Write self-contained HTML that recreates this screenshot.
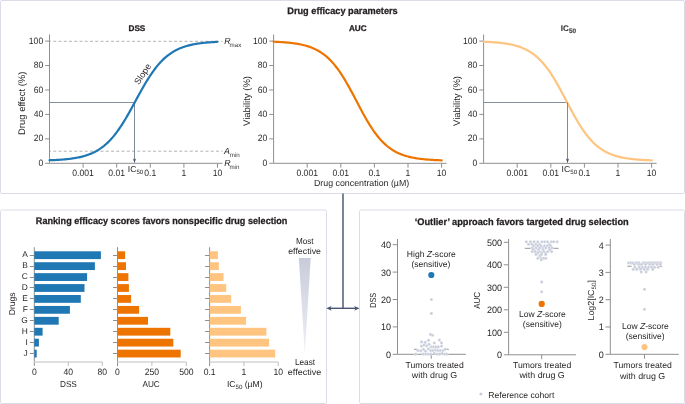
<!DOCTYPE html>
<html><head><meta charset="utf-8"><title>Drug efficacy parameters</title>
<style>html,body{margin:0;padding:0;background:#fff;overflow:hidden;}svg{display:block;will-change:transform;}</style>
</head><body>
<svg width="685" height="404" viewBox="0 0 685 404" font-family='"Liberation Sans", sans-serif' fill="#231f20" text-rendering="geometricPrecision">
<defs><linearGradient id="tri" x1="0" y1="0" x2="0" y2="1"><stop offset="0" stop-color="#c8ccda"/><stop offset="1" stop-color="#f0f1f6"/></linearGradient></defs>
<rect width="685" height="404" fill="#fff"/>
<rect x="0.5" y="0.5" width="684" height="193" rx="1.5" fill="none" stroke="#dadde8" stroke-width="1"/>
<rect x="0.5" y="210" width="326" height="193.5" rx="1.5" fill="none" stroke="#dadde8" stroke-width="1"/>
<rect x="359.5" y="210" width="325" height="193.5" rx="1.5" fill="none" stroke="#dadde8" stroke-width="1"/>
<text x="342.5" y="14" font-size="9.6" text-anchor="middle" font-weight="bold" stroke="#231f20" stroke-width="0.28" textLength="110.5" lengthAdjust="spacingAndGlyphs">Drug efficacy parameters</text>
<line x1="49.5" y1="34.5" x2="49.5" y2="163.3" stroke="#8f8f8f" stroke-width="1"/>
<line x1="45.2" y1="163.3" x2="49.5" y2="163.3" stroke="#8f8f8f" stroke-width="1"/>
<text x="43.2" y="165.9" font-size="9.2" text-anchor="end" textLength="4.78" lengthAdjust="spacingAndGlyphs">0</text>
<line x1="45.2" y1="138.86" x2="49.5" y2="138.86" stroke="#8f8f8f" stroke-width="1"/>
<text x="43.2" y="141.46" font-size="9.2" text-anchor="end" textLength="9.56" lengthAdjust="spacingAndGlyphs">20</text>
<line x1="45.2" y1="114.42000000000002" x2="49.5" y2="114.42000000000002" stroke="#8f8f8f" stroke-width="1"/>
<text x="43.2" y="117.02" font-size="9.2" text-anchor="end" textLength="9.56" lengthAdjust="spacingAndGlyphs">40</text>
<line x1="45.2" y1="89.98000000000002" x2="49.5" y2="89.98000000000002" stroke="#8f8f8f" stroke-width="1"/>
<text x="43.2" y="92.58" font-size="9.2" text-anchor="end" textLength="9.56" lengthAdjust="spacingAndGlyphs">60</text>
<line x1="45.2" y1="65.54000000000002" x2="49.5" y2="65.54000000000002" stroke="#8f8f8f" stroke-width="1"/>
<text x="43.2" y="68.14" font-size="9.2" text-anchor="end" textLength="9.56" lengthAdjust="spacingAndGlyphs">80</text>
<line x1="45.2" y1="41.10000000000001" x2="49.5" y2="41.10000000000001" stroke="#8f8f8f" stroke-width="1"/>
<text x="43.2" y="43.7" font-size="9.2" text-anchor="end" textLength="14.35" lengthAdjust="spacingAndGlyphs">100</text>
<line x1="49.5" y1="163.3" x2="222.5" y2="163.3" stroke="#8f8f8f" stroke-width="1"/>
<line x1="83.1" y1="163.3" x2="83.1" y2="167.70000000000002" stroke="#8f8f8f" stroke-width="1"/>
<text x="83.1" y="176" font-size="9.2" text-anchor="middle" textLength="21.52" lengthAdjust="spacingAndGlyphs">0.001</text>
<line x1="116.7" y1="163.3" x2="116.7" y2="167.70000000000002" stroke="#8f8f8f" stroke-width="1"/>
<text x="116.7" y="176" font-size="9.2" text-anchor="middle" textLength="16.74" lengthAdjust="spacingAndGlyphs">0.01</text>
<line x1="150.3" y1="163.3" x2="150.3" y2="167.70000000000002" stroke="#8f8f8f" stroke-width="1"/>
<text x="150.3" y="176" font-size="9.2" text-anchor="middle" textLength="11.95" lengthAdjust="spacingAndGlyphs">0.1</text>
<line x1="183.9" y1="163.3" x2="183.9" y2="167.70000000000002" stroke="#8f8f8f" stroke-width="1"/>
<text x="183.9" y="176" font-size="9.2" text-anchor="middle" textLength="4.78" lengthAdjust="spacingAndGlyphs">1</text>
<line x1="217.5" y1="163.3" x2="217.5" y2="167.70000000000002" stroke="#8f8f8f" stroke-width="1"/>
<text x="217.5" y="176" font-size="9.2" text-anchor="middle" textLength="9.56" lengthAdjust="spacingAndGlyphs">10</text>
<text x="0" y="0" font-size="9.5" text-anchor="middle" textLength="63.3" lengthAdjust="spacingAndGlyphs" transform="translate(25.2,103.3) rotate(-90)">Drug effect (%)</text>
<text x="136.9" y="30.7" font-size="8.2" text-anchor="middle" font-weight="bold" stroke="#231f20" stroke-width="0.28">DSS</text>
<line x1="49.5" y1="41.3" x2="222.5" y2="41.3" stroke="#a0a0a0" stroke-width="0.8" stroke-dasharray="3 2.25" stroke-dashoffset="1.5"/>
<line x1="49.5" y1="151.2" x2="222.5" y2="151.2" stroke="#a0a0a0" stroke-width="0.8" stroke-dasharray="3 2.25" stroke-dashoffset="1.5"/>
<line x1="49.5" y1="102.5" x2="134.5" y2="102.5" stroke="#878ea0" stroke-width="1"/>
<line x1="134.5" y1="102.5" x2="134.5" y2="160" stroke="#737c92" stroke-width="0.9"/>
<path d="M133.0,158.6 L134.5,159.6 L136.0,158.6 L134.5,163.3 Z" fill="#434e68"/>
<polyline points="49.50,160.26 50.55,160.22 51.60,160.18 52.65,160.14 53.70,160.09 54.74,160.04 55.79,159.99 56.84,159.93 57.89,159.87 58.94,159.80 59.99,159.73 61.04,159.66 62.08,159.58 63.13,159.49 64.18,159.40 65.23,159.31 66.28,159.21 67.33,159.10 68.38,158.98 69.43,158.86 70.48,158.73 71.52,158.59 72.57,158.44 73.62,158.28 74.67,158.11 75.72,157.93 76.77,157.74 77.82,157.54 78.87,157.33 79.91,157.10 80.96,156.85 82.01,156.60 83.06,156.32 84.11,156.03 85.16,155.72 86.21,155.40 87.25,155.05 88.30,154.68 89.35,154.29 90.40,153.88 91.45,153.44 92.50,152.98 93.55,152.49 94.60,151.97 95.65,151.42 96.69,150.84 97.74,150.23 98.79,149.59 99.84,148.91 100.89,148.20 101.94,147.45 102.99,146.66 104.04,145.83 105.08,144.96 106.13,144.05 107.18,143.09 108.23,142.09 109.28,141.04 110.33,139.95 111.38,138.81 112.43,137.62 113.47,136.39 114.52,135.10 115.57,133.77 116.62,132.39 117.67,130.97 118.72,129.49 119.77,127.97 120.82,126.41 121.86,124.80 122.91,123.15 123.96,121.45 125.01,119.73 126.06,117.96 127.11,116.17 128.16,114.34 129.21,112.49 130.25,110.61 131.30,108.71 132.35,106.80 133.40,104.88 134.45,102.95 135.50,101.01 136.55,99.08 137.60,97.14 138.64,95.22 139.69,93.31 140.74,91.41 141.79,89.54 142.84,87.68 143.89,85.85 144.94,84.06 145.99,82.29 147.03,80.56 148.08,78.87 149.13,77.22 150.18,75.61 151.23,74.04 152.28,72.52 153.33,71.04 154.38,69.61 155.42,68.23 156.47,66.90 157.52,65.61 158.57,64.38 159.62,63.19 160.67,62.05 161.72,60.95 162.77,59.90 163.81,58.90 164.86,57.94 165.91,57.03 166.96,56.16 168.01,55.32 169.06,54.53 170.11,53.78 171.16,53.07 172.20,52.39 173.25,51.74 174.30,51.13 175.35,50.55 176.40,50.01 177.45,49.49 178.50,49.00 179.55,48.53 180.59,48.09 181.64,47.68 182.69,47.29 183.74,46.92 184.79,46.57 185.84,46.24 186.89,45.94 187.94,45.64 188.98,45.37 190.03,45.11 191.08,44.87 192.13,44.64 193.18,44.42 194.23,44.22 195.28,44.03 196.33,43.85 197.37,43.68 198.42,43.52 199.47,43.37 200.52,43.23 201.57,43.10 202.62,42.98 203.67,42.86 204.72,42.75 205.76,42.65 206.81,42.56 207.86,42.47 208.91,42.38 209.96,42.30 211.01,42.23 212.06,42.16 213.11,42.09 214.15,42.03 215.20,41.97 216.25,41.92 217.30,41.87" fill="none" stroke="#1f77b4" stroke-width="2.2" stroke-linecap="round"/>
<text x="127.8" y="171.6" font-size="8.6">IC<tspan font-size="6.2" dy="1.9">50</tspan></text>
<text x="224.2" y="43.9" font-size="8.8" font-style="italic">R</text>
<text x="229.6" y="46.6" font-size="6.2" fill="#3a3a3a">max</text>
<text x="224.0" y="154.0" font-size="8.8" font-style="italic">A</text>
<text x="229.8" y="156.8" font-size="6.2" fill="#3a3a3a">min</text>
<text x="224.2" y="166.0" font-size="8.8" font-style="italic">R</text>
<text x="229.4" y="168.6" font-size="6.2" fill="#3a3a3a">min</text>
<text x="0" y="0" font-size="9.0" text-anchor="middle" transform="translate(145.1,75.7) rotate(-56)">Slope</text>
<line x1="273.6" y1="34.5" x2="273.6" y2="163.3" stroke="#8f8f8f" stroke-width="1"/>
<line x1="269.3" y1="163.3" x2="273.6" y2="163.3" stroke="#8f8f8f" stroke-width="1"/>
<text x="267.3" y="165.9" font-size="9.2" text-anchor="end" textLength="4.78" lengthAdjust="spacingAndGlyphs">0</text>
<line x1="269.3" y1="138.86" x2="273.6" y2="138.86" stroke="#8f8f8f" stroke-width="1"/>
<text x="267.3" y="141.46" font-size="9.2" text-anchor="end" textLength="9.56" lengthAdjust="spacingAndGlyphs">20</text>
<line x1="269.3" y1="114.42000000000002" x2="273.6" y2="114.42000000000002" stroke="#8f8f8f" stroke-width="1"/>
<text x="267.3" y="117.02" font-size="9.2" text-anchor="end" textLength="9.56" lengthAdjust="spacingAndGlyphs">40</text>
<line x1="269.3" y1="89.98000000000002" x2="273.6" y2="89.98000000000002" stroke="#8f8f8f" stroke-width="1"/>
<text x="267.3" y="92.58" font-size="9.2" text-anchor="end" textLength="9.56" lengthAdjust="spacingAndGlyphs">60</text>
<line x1="269.3" y1="65.54000000000002" x2="273.6" y2="65.54000000000002" stroke="#8f8f8f" stroke-width="1"/>
<text x="267.3" y="68.14" font-size="9.2" text-anchor="end" textLength="9.56" lengthAdjust="spacingAndGlyphs">80</text>
<line x1="269.3" y1="41.10000000000001" x2="273.6" y2="41.10000000000001" stroke="#8f8f8f" stroke-width="1"/>
<text x="267.3" y="43.7" font-size="9.2" text-anchor="end" textLength="14.35" lengthAdjust="spacingAndGlyphs">100</text>
<line x1="273.6" y1="163.3" x2="446.6" y2="163.3" stroke="#8f8f8f" stroke-width="1"/>
<line x1="307.20000000000005" y1="163.3" x2="307.20000000000005" y2="167.70000000000002" stroke="#8f8f8f" stroke-width="1"/>
<text x="307.2" y="176" font-size="9.2" text-anchor="middle" textLength="21.52" lengthAdjust="spacingAndGlyphs">0.001</text>
<line x1="340.8" y1="163.3" x2="340.8" y2="167.70000000000002" stroke="#8f8f8f" stroke-width="1"/>
<text x="340.8" y="176" font-size="9.2" text-anchor="middle" textLength="16.74" lengthAdjust="spacingAndGlyphs">0.01</text>
<line x1="374.40000000000003" y1="163.3" x2="374.40000000000003" y2="167.70000000000002" stroke="#8f8f8f" stroke-width="1"/>
<text x="374.4" y="176" font-size="9.2" text-anchor="middle" textLength="11.95" lengthAdjust="spacingAndGlyphs">0.1</text>
<line x1="408.0" y1="163.3" x2="408.0" y2="167.70000000000002" stroke="#8f8f8f" stroke-width="1"/>
<text x="408.0" y="176" font-size="9.2" text-anchor="middle" textLength="4.78" lengthAdjust="spacingAndGlyphs">1</text>
<line x1="441.6" y1="163.3" x2="441.6" y2="167.70000000000002" stroke="#8f8f8f" stroke-width="1"/>
<text x="441.6" y="176" font-size="9.2" text-anchor="middle" textLength="9.56" lengthAdjust="spacingAndGlyphs">10</text>
<text x="0" y="0" font-size="9.5" text-anchor="middle" textLength="50" lengthAdjust="spacingAndGlyphs" transform="translate(250,101) rotate(-90)">Viability (%)</text>
<text x="357.8" y="31" font-size="8.2" text-anchor="middle" font-weight="bold" stroke="#231f20" stroke-width="0.28">AUC</text>
<polyline points="273.60,41.71 274.65,41.75 275.70,41.79 276.75,41.84 277.80,41.89 278.85,41.95 279.90,42.01 280.95,42.07 282.01,42.13 283.06,42.21 284.11,42.28 285.16,42.36 286.21,42.45 287.26,42.54 288.31,42.64 289.36,42.74 290.41,42.86 291.46,42.98 292.51,43.10 293.56,43.24 294.61,43.39 295.66,43.54 296.71,43.71 297.76,43.88 298.81,44.07 299.87,44.27 300.92,44.48 301.97,44.71 303.02,44.95 304.07,45.21 305.12,45.49 306.17,45.78 307.22,46.09 308.27,46.42 309.32,46.77 310.37,47.14 311.42,47.54 312.47,47.96 313.52,48.40 314.57,48.88 315.62,49.38 316.68,49.91 317.73,50.47 318.78,51.07 319.83,51.70 320.88,52.36 321.93,53.06 322.98,53.80 324.03,54.58 325.08,55.41 326.13,56.27 327.18,57.18 328.23,58.14 329.28,59.14 330.33,60.19 331.38,61.29 332.44,62.44 333.49,63.64 334.54,64.89 335.59,66.19 336.64,67.54 337.69,68.95 338.74,70.40 339.79,71.91 340.84,73.47 341.89,75.07 342.94,76.73 343.99,78.42 345.04,80.17 346.09,81.95 347.14,83.77 348.19,85.63 349.25,87.51 350.30,89.43 351.35,91.37 352.40,93.34 353.45,95.32 354.50,97.31 355.55,99.31 356.60,101.31 357.65,103.32 358.70,105.31 359.75,107.30 360.80,109.28 361.85,111.23 362.90,113.17 363.95,115.08 365.00,116.95 366.06,118.80 367.11,120.61 368.16,122.38 369.21,124.10 370.26,125.79 371.31,127.42 372.36,129.01 373.41,130.55 374.46,132.04 375.51,133.48 376.56,134.87 377.61,136.21 378.66,137.49 379.71,138.73 380.76,139.91 381.81,141.04 382.87,142.12 383.92,143.16 384.97,144.14 386.02,145.08 387.07,145.98 388.12,146.83 389.17,147.64 390.22,148.40 391.27,149.13 392.32,149.82 393.37,150.47 394.42,151.09 395.47,151.68 396.52,152.23 397.57,152.75 398.62,153.24 399.67,153.70 400.73,154.14 401.78,154.55 402.83,154.94 403.88,155.31 404.93,155.65 405.98,155.97 407.03,156.28 408.08,156.56 409.13,156.83 410.18,157.08 411.23,157.32 412.28,157.54 413.33,157.75 414.38,157.95 415.43,158.13 416.49,158.31 417.54,158.47 418.59,158.62 419.64,158.76 420.69,158.90 421.74,159.02 422.79,159.14 423.84,159.25 424.89,159.35 425.94,159.45 426.99,159.54 428.04,159.62 429.09,159.70 430.14,159.77 431.19,159.84 432.24,159.91 433.29,159.97 434.35,160.03 435.40,160.08 436.45,160.13 437.50,160.18 438.55,160.22 439.60,160.26 440.65,160.30 441.70,160.34" fill="none" stroke="#ee7400" stroke-width="2.2" stroke-linecap="round"/>
<text x="361.6" y="186.4" font-size="8.9" text-anchor="middle" textLength="95.3" lengthAdjust="spacingAndGlyphs">Drug concentration (µM)</text>
<line x1="483.6" y1="34.5" x2="483.6" y2="163.3" stroke="#8f8f8f" stroke-width="1"/>
<line x1="479.3" y1="163.3" x2="483.6" y2="163.3" stroke="#8f8f8f" stroke-width="1"/>
<text x="477.3" y="165.9" font-size="9.2" text-anchor="end" textLength="4.78" lengthAdjust="spacingAndGlyphs">0</text>
<line x1="479.3" y1="138.86" x2="483.6" y2="138.86" stroke="#8f8f8f" stroke-width="1"/>
<text x="477.3" y="141.46" font-size="9.2" text-anchor="end" textLength="9.56" lengthAdjust="spacingAndGlyphs">20</text>
<line x1="479.3" y1="114.42000000000002" x2="483.6" y2="114.42000000000002" stroke="#8f8f8f" stroke-width="1"/>
<text x="477.3" y="117.02" font-size="9.2" text-anchor="end" textLength="9.56" lengthAdjust="spacingAndGlyphs">40</text>
<line x1="479.3" y1="89.98000000000002" x2="483.6" y2="89.98000000000002" stroke="#8f8f8f" stroke-width="1"/>
<text x="477.3" y="92.58" font-size="9.2" text-anchor="end" textLength="9.56" lengthAdjust="spacingAndGlyphs">60</text>
<line x1="479.3" y1="65.54000000000002" x2="483.6" y2="65.54000000000002" stroke="#8f8f8f" stroke-width="1"/>
<text x="477.3" y="68.14" font-size="9.2" text-anchor="end" textLength="9.56" lengthAdjust="spacingAndGlyphs">80</text>
<line x1="479.3" y1="41.10000000000001" x2="483.6" y2="41.10000000000001" stroke="#8f8f8f" stroke-width="1"/>
<text x="477.3" y="43.7" font-size="9.2" text-anchor="end" textLength="14.35" lengthAdjust="spacingAndGlyphs">100</text>
<line x1="483.6" y1="163.3" x2="656.6" y2="163.3" stroke="#8f8f8f" stroke-width="1"/>
<line x1="517.2" y1="163.3" x2="517.2" y2="167.70000000000002" stroke="#8f8f8f" stroke-width="1"/>
<text x="517.2" y="176" font-size="9.2" text-anchor="middle" textLength="21.52" lengthAdjust="spacingAndGlyphs">0.001</text>
<line x1="550.8000000000001" y1="163.3" x2="550.8000000000001" y2="167.70000000000002" stroke="#8f8f8f" stroke-width="1"/>
<text x="550.8" y="176" font-size="9.2" text-anchor="middle" textLength="16.74" lengthAdjust="spacingAndGlyphs">0.01</text>
<line x1="584.4000000000001" y1="163.3" x2="584.4000000000001" y2="167.70000000000002" stroke="#8f8f8f" stroke-width="1"/>
<text x="584.4" y="176" font-size="9.2" text-anchor="middle" textLength="11.95" lengthAdjust="spacingAndGlyphs">0.1</text>
<line x1="618.0" y1="163.3" x2="618.0" y2="167.70000000000002" stroke="#8f8f8f" stroke-width="1"/>
<text x="618.0" y="176" font-size="9.2" text-anchor="middle" textLength="4.78" lengthAdjust="spacingAndGlyphs">1</text>
<line x1="651.6" y1="163.3" x2="651.6" y2="167.70000000000002" stroke="#8f8f8f" stroke-width="1"/>
<text x="651.6" y="176" font-size="9.2" text-anchor="middle" textLength="9.56" lengthAdjust="spacingAndGlyphs">10</text>
<text x="0" y="0" font-size="9.5" text-anchor="middle" textLength="50" lengthAdjust="spacingAndGlyphs" transform="translate(460,101) rotate(-90)">Viability (%)</text>
<text x="560.8" y="30.8" font-size="8.2" font-weight="bold">IC<tspan font-size="6.4" dy="2.4" stroke="#444" stroke-width="0.15" fill="#444">50</tspan></text>
<line x1="483.6" y1="102.5" x2="567.5" y2="102.5" stroke="#878ea0" stroke-width="1"/>
<polyline points="483.60,41.71 484.65,41.75 485.70,41.79 486.75,41.84 487.81,41.89 488.86,41.95 489.91,42.01 490.96,42.07 492.01,42.13 493.06,42.21 494.11,42.28 495.16,42.36 496.22,42.45 497.27,42.54 498.32,42.64 499.37,42.75 500.42,42.86 501.47,42.98 502.52,43.11 503.57,43.24 504.62,43.39 505.68,43.54 506.73,43.71 507.78,43.89 508.83,44.07 509.88,44.27 510.93,44.49 511.98,44.72 513.03,44.96 514.09,45.22 515.14,45.49 516.19,45.78 517.24,46.09 518.29,46.42 519.34,46.78 520.39,47.15 521.45,47.55 522.50,47.97 523.55,48.41 524.60,48.89 525.65,49.39 526.70,49.92 527.75,50.49 528.80,51.08 529.86,51.71 530.91,52.38 531.96,53.08 533.01,53.82 534.06,54.61 535.11,55.43 536.16,56.30 537.21,57.21 538.26,58.17 539.32,59.17 540.37,60.22 541.42,61.32 542.47,62.47 543.52,63.68 544.57,64.93 545.62,66.23 546.67,67.59 547.73,69.00 548.78,70.46 549.83,71.97 550.88,73.53 551.93,75.14 552.98,76.79 554.03,78.49 555.09,80.24 556.14,82.02 557.19,83.85 558.24,85.70 559.29,87.60 560.34,89.51 561.39,91.46 562.44,93.42 563.50,95.41 564.55,97.40 565.60,99.40 566.65,101.41 567.70,103.41 568.75,105.41 569.80,107.40 570.85,109.37 571.90,111.33 572.96,113.27 574.01,115.17 575.06,117.05 576.11,118.89 577.16,120.70 578.21,122.47 579.26,124.20 580.32,125.88 581.37,127.51 582.42,129.10 583.47,130.64 584.52,132.13 585.57,133.57 586.62,134.95 587.67,136.29 588.72,137.57 589.78,138.80 590.83,139.98 591.88,141.11 592.93,142.19 593.98,143.22 595.03,144.21 596.08,145.14 597.13,146.03 598.19,146.88 599.24,147.69 600.29,148.45 601.34,149.18 602.39,149.87 603.44,150.52 604.49,151.13 605.54,151.71 606.60,152.26 607.65,152.78 608.70,153.27 609.75,153.74 610.80,154.17 611.85,154.58 612.90,154.97 613.95,155.33 615.01,155.68 616.06,156.00 617.11,156.30 618.16,156.58 619.21,156.85 620.26,157.10 621.31,157.34 622.37,157.56 623.42,157.77 624.47,157.96 625.52,158.15 626.57,158.32 627.62,158.48 628.67,158.63 629.72,158.77 630.77,158.91 631.83,159.03 632.88,159.15 633.93,159.26 634.98,159.36 636.03,159.45 637.08,159.54 638.13,159.63 639.18,159.71 640.24,159.78 641.29,159.85 642.34,159.91 643.39,159.98 644.44,160.03 645.49,160.09 646.54,160.13 647.60,160.18 648.65,160.22 649.70,160.27 650.75,160.30 651.80,160.34" fill="none" stroke="#fec480" stroke-width="2.2" stroke-linecap="round"/>
<line x1="567.5" y1="102.5" x2="567.5" y2="160" stroke="#737c92" stroke-width="0.9"/>
<path d="M566.0,158.6 L567.5,159.6 L569.0,158.6 L567.5,163.3 Z" fill="#434e68"/>
<text x="561.6" y="171.6" font-size="8.6">IC<tspan font-size="6.2" dy="1.9">50</tspan></text>
<line x1="343" y1="193.5" x2="343" y2="308.3" stroke="#6b7690" stroke-width="1.8"/>
<line x1="329" y1="308.3" x2="357" y2="308.3" stroke="#4a5670" stroke-width="1.4"/>
<path d="M326.3,308.3 L331.6,305.9 L330.3,308.3 L331.6,310.7 Z" fill="#4a5670"/>
<path d="M359.5,308.3 L354.2,305.9 L355.5,308.3 L354.2,310.7 Z" fill="#4a5670"/>
<text x="161.6" y="224.3" font-size="9.6" text-anchor="middle" font-weight="bold" stroke="#231f20" stroke-width="0.28" textLength="251.5" lengthAdjust="spacingAndGlyphs">Ranking efficacy scores favors nonspecific drug selection</text>
<line x1="34.3" y1="247.2" x2="34.3" y2="366" stroke="#8f8f8f" stroke-width="1"/>
<rect x="34.3" y="251.30" width="66.60" height="7.8" fill="#1f77b4"/>
<line x1="29.799999999999997" y1="255.5" x2="34.3" y2="255.5" stroke="#8f8f8f" stroke-width="1"/>
<rect x="34.3" y="262.23" width="60.60" height="7.8" fill="#1f77b4"/>
<line x1="29.799999999999997" y1="266.5" x2="34.3" y2="266.5" stroke="#8f8f8f" stroke-width="1"/>
<rect x="34.3" y="273.16" width="52.80" height="7.8" fill="#1f77b4"/>
<line x1="29.799999999999997" y1="277.5" x2="34.3" y2="277.5" stroke="#8f8f8f" stroke-width="1"/>
<rect x="34.3" y="284.09" width="50.20" height="7.8" fill="#1f77b4"/>
<line x1="29.799999999999997" y1="287.5" x2="34.3" y2="287.5" stroke="#8f8f8f" stroke-width="1"/>
<rect x="34.3" y="295.02" width="46.50" height="7.8" fill="#1f77b4"/>
<line x1="29.799999999999997" y1="298.5" x2="34.3" y2="298.5" stroke="#8f8f8f" stroke-width="1"/>
<rect x="34.3" y="305.95" width="35.60" height="7.8" fill="#1f77b4"/>
<line x1="29.799999999999997" y1="309.5" x2="34.3" y2="309.5" stroke="#8f8f8f" stroke-width="1"/>
<rect x="34.3" y="316.88" width="24.40" height="7.8" fill="#1f77b4"/>
<line x1="29.799999999999997" y1="320.5" x2="34.3" y2="320.5" stroke="#8f8f8f" stroke-width="1"/>
<rect x="34.3" y="327.81" width="8.30" height="7.8" fill="#1f77b4"/>
<line x1="29.799999999999997" y1="331.5" x2="34.3" y2="331.5" stroke="#8f8f8f" stroke-width="1"/>
<rect x="34.3" y="338.74" width="4.60" height="7.8" fill="#1f77b4"/>
<line x1="29.799999999999997" y1="342.5" x2="34.3" y2="342.5" stroke="#8f8f8f" stroke-width="1"/>
<rect x="34.3" y="349.67" width="2.40" height="7.8" fill="#1f77b4"/>
<line x1="29.799999999999997" y1="353.5" x2="34.3" y2="353.5" stroke="#8f8f8f" stroke-width="1"/>
<line x1="34.3" y1="362" x2="102.3" y2="362" stroke="#d4d4d4" stroke-width="1.3"/>
<text x="34.3" y="375" font-size="9.2" text-anchor="middle" textLength="4.78" lengthAdjust="spacingAndGlyphs">0</text>
<line x1="68.3" y1="362" x2="68.3" y2="366" stroke="#bdbdbd" stroke-width="1"/>
<text x="68.3" y="375" font-size="9.2" text-anchor="middle" textLength="9.56" lengthAdjust="spacingAndGlyphs">40</text>
<line x1="102.3" y1="362" x2="102.3" y2="366" stroke="#bdbdbd" stroke-width="1"/>
<text x="102.3" y="375" font-size="9.2" text-anchor="middle" textLength="9.56" lengthAdjust="spacingAndGlyphs">80</text>
<text x="68.4" y="387" font-size="8.6" text-anchor="middle" textLength="16.86" lengthAdjust="spacingAndGlyphs">DSS</text>
<text x="27.8" y="257.2" font-size="8.4" text-anchor="end">A</text>
<text x="27.8" y="268.13" font-size="8.4" text-anchor="end">B</text>
<text x="27.8" y="279.06" font-size="8.4" text-anchor="end">C</text>
<text x="27.8" y="289.99" font-size="8.4" text-anchor="end">D</text>
<text x="27.8" y="300.92" font-size="8.4" text-anchor="end">E</text>
<text x="27.8" y="311.85" font-size="8.4" text-anchor="end">F</text>
<text x="27.8" y="322.78" font-size="8.4" text-anchor="end">G</text>
<text x="27.8" y="333.71" font-size="8.4" text-anchor="end">H</text>
<text x="27.8" y="344.64" font-size="8.4" text-anchor="end">I</text>
<text x="27.8" y="355.57" font-size="8.4" text-anchor="end">J</text>
<text x="0" y="0" font-size="8.6" text-anchor="middle" transform="translate(15.2,303.8) rotate(-90)">Drugs</text>
<line x1="117.5" y1="247.2" x2="117.5" y2="366" stroke="#8f8f8f" stroke-width="1"/>
<rect x="117.5" y="251.30" width="7.60" height="7.8" fill="#ee7400"/>
<line x1="113.0" y1="255.5" x2="117.5" y2="255.5" stroke="#8f8f8f" stroke-width="1"/>
<rect x="117.5" y="262.23" width="8.50" height="7.8" fill="#ee7400"/>
<line x1="113.0" y1="266.5" x2="117.5" y2="266.5" stroke="#8f8f8f" stroke-width="1"/>
<rect x="117.5" y="273.16" width="10.90" height="7.8" fill="#ee7400"/>
<line x1="113.0" y1="277.5" x2="117.5" y2="277.5" stroke="#8f8f8f" stroke-width="1"/>
<rect x="117.5" y="284.09" width="11.40" height="7.8" fill="#ee7400"/>
<line x1="113.0" y1="287.5" x2="117.5" y2="287.5" stroke="#8f8f8f" stroke-width="1"/>
<rect x="117.5" y="295.02" width="13.60" height="7.8" fill="#ee7400"/>
<line x1="113.0" y1="298.5" x2="117.5" y2="298.5" stroke="#8f8f8f" stroke-width="1"/>
<rect x="117.5" y="305.95" width="21.60" height="7.8" fill="#ee7400"/>
<line x1="113.0" y1="309.5" x2="117.5" y2="309.5" stroke="#8f8f8f" stroke-width="1"/>
<rect x="117.5" y="316.88" width="30.50" height="7.8" fill="#ee7400"/>
<line x1="113.0" y1="320.5" x2="117.5" y2="320.5" stroke="#8f8f8f" stroke-width="1"/>
<rect x="117.5" y="327.81" width="52.80" height="7.8" fill="#ee7400"/>
<line x1="113.0" y1="331.5" x2="117.5" y2="331.5" stroke="#8f8f8f" stroke-width="1"/>
<rect x="117.5" y="338.74" width="55.80" height="7.8" fill="#ee7400"/>
<line x1="113.0" y1="342.5" x2="117.5" y2="342.5" stroke="#8f8f8f" stroke-width="1"/>
<rect x="117.5" y="349.67" width="63.20" height="7.8" fill="#ee7400"/>
<line x1="113.0" y1="353.5" x2="117.5" y2="353.5" stroke="#8f8f8f" stroke-width="1"/>
<line x1="117.5" y1="362" x2="186.3" y2="362" stroke="#d4d4d4" stroke-width="1.3"/>
<text x="117.5" y="375" font-size="9.2" text-anchor="middle" textLength="4.78" lengthAdjust="spacingAndGlyphs">0</text>
<line x1="151.9" y1="362" x2="151.9" y2="366" stroke="#bdbdbd" stroke-width="1"/>
<text x="151.9" y="375" font-size="9.2" text-anchor="middle" textLength="14.35" lengthAdjust="spacingAndGlyphs">250</text>
<line x1="186.3" y1="362" x2="186.3" y2="366" stroke="#bdbdbd" stroke-width="1"/>
<text x="186.3" y="375" font-size="9.2" text-anchor="middle" textLength="14.35" lengthAdjust="spacingAndGlyphs">500</text>
<text x="151.1" y="387" font-size="8.6" text-anchor="middle" textLength="17.31" lengthAdjust="spacingAndGlyphs">AUC</text>
<text x="226.9" y="387" font-size="8.6">IC<tspan font-size="6.2" dy="1.9">50</tspan><tspan dy="-1.9"> (µM)</tspan></text>
<line x1="209.6" y1="247.2" x2="209.6" y2="366" stroke="#8f8f8f" stroke-width="1"/>
<rect x="209.6" y="251.30" width="8.30" height="7.8" fill="#fec480"/>
<line x1="205.1" y1="255.5" x2="209.6" y2="255.5" stroke="#8f8f8f" stroke-width="1"/>
<rect x="209.6" y="262.23" width="9.20" height="7.8" fill="#fec480"/>
<line x1="205.1" y1="266.5" x2="209.6" y2="266.5" stroke="#8f8f8f" stroke-width="1"/>
<rect x="209.6" y="273.16" width="13.90" height="7.8" fill="#fec480"/>
<line x1="205.1" y1="277.5" x2="209.6" y2="277.5" stroke="#8f8f8f" stroke-width="1"/>
<rect x="209.6" y="284.09" width="16.60" height="7.8" fill="#fec480"/>
<line x1="205.1" y1="287.5" x2="209.6" y2="287.5" stroke="#8f8f8f" stroke-width="1"/>
<rect x="209.6" y="295.02" width="21.50" height="7.8" fill="#fec480"/>
<line x1="205.1" y1="298.5" x2="209.6" y2="298.5" stroke="#8f8f8f" stroke-width="1"/>
<rect x="209.6" y="305.95" width="31.30" height="7.8" fill="#fec480"/>
<line x1="205.1" y1="309.5" x2="209.6" y2="309.5" stroke="#8f8f8f" stroke-width="1"/>
<rect x="209.6" y="316.88" width="36.50" height="7.8" fill="#fec480"/>
<line x1="205.1" y1="320.5" x2="209.6" y2="320.5" stroke="#8f8f8f" stroke-width="1"/>
<rect x="209.6" y="327.81" width="56.80" height="7.8" fill="#fec480"/>
<line x1="205.1" y1="331.5" x2="209.6" y2="331.5" stroke="#8f8f8f" stroke-width="1"/>
<rect x="209.6" y="338.74" width="59.50" height="7.8" fill="#fec480"/>
<line x1="205.1" y1="342.5" x2="209.6" y2="342.5" stroke="#8f8f8f" stroke-width="1"/>
<rect x="209.6" y="349.67" width="65.60" height="7.8" fill="#fec480"/>
<line x1="205.1" y1="353.5" x2="209.6" y2="353.5" stroke="#8f8f8f" stroke-width="1"/>
<line x1="209.6" y1="362" x2="278.2" y2="362" stroke="#d4d4d4" stroke-width="1.3"/>
<text x="209.6" y="375" font-size="9.2" text-anchor="middle" textLength="11.95" lengthAdjust="spacingAndGlyphs">0.1</text>
<line x1="243.9" y1="362" x2="243.9" y2="366" stroke="#bdbdbd" stroke-width="1"/>
<text x="243.9" y="375" font-size="9.2" text-anchor="middle" textLength="4.78" lengthAdjust="spacingAndGlyphs">1</text>
<line x1="278.2" y1="362" x2="278.2" y2="366" stroke="#bdbdbd" stroke-width="1"/>
<text x="278.2" y="375" font-size="9.2" text-anchor="middle" textLength="9.56" lengthAdjust="spacingAndGlyphs">10</text>
<text x="0" y="387" font-size="8.6" text-anchor="middle"></text>
<path d="M298.8,257.9 L310.7,257.9 L304.8,354.3 Z" fill="url(#tri)"/>
<text x="304.7" y="244.1" font-size="8.6" text-anchor="middle" textLength="17.6" lengthAdjust="spacingAndGlyphs">Most</text>
<text x="304.6" y="253.9" font-size="8.6" text-anchor="middle" textLength="32.8" lengthAdjust="spacingAndGlyphs">effective</text>
<text x="305.0" y="364.7" font-size="8.6" text-anchor="middle" textLength="20.2" lengthAdjust="spacingAndGlyphs">Least</text>
<text x="304.6" y="375.4" font-size="8.6" text-anchor="middle" textLength="33.5" lengthAdjust="spacingAndGlyphs">effective</text>
<text x="521.7" y="224.5" font-size="9.6" text-anchor="middle" font-weight="bold" stroke="#231f20" stroke-width="0.28" textLength="214" lengthAdjust="spacingAndGlyphs">‘Outlier’ approach favors targeted drug selection</text>
<line x1="397.5" y1="239" x2="397.5" y2="354.3" stroke="#8f8f8f" stroke-width="1"/>
<line x1="392.7" y1="354.3" x2="397.5" y2="354.3" stroke="#8f8f8f" stroke-width="1"/>
<text x="390.9" y="357.7" font-size="9.4" text-anchor="end" textLength="5.0" lengthAdjust="spacingAndGlyphs">0</text>
<line x1="392.7" y1="326.90000000000003" x2="397.5" y2="326.90000000000003" stroke="#8f8f8f" stroke-width="1"/>
<text x="390.9" y="330.3" font-size="9.4" text-anchor="end" textLength="10.01" lengthAdjust="spacingAndGlyphs">10</text>
<line x1="392.7" y1="299.5" x2="397.5" y2="299.5" stroke="#8f8f8f" stroke-width="1"/>
<text x="390.9" y="302.9" font-size="9.4" text-anchor="end" textLength="10.01" lengthAdjust="spacingAndGlyphs">20</text>
<line x1="392.7" y1="272.1" x2="397.5" y2="272.1" stroke="#8f8f8f" stroke-width="1"/>
<text x="390.9" y="275.5" font-size="9.4" text-anchor="end" textLength="10.01" lengthAdjust="spacingAndGlyphs">30</text>
<line x1="392.7" y1="244.7" x2="397.5" y2="244.7" stroke="#8f8f8f" stroke-width="1"/>
<text x="390.9" y="248.1" font-size="9.4" text-anchor="end" textLength="10.01" lengthAdjust="spacingAndGlyphs">40</text>
<line x1="397.5" y1="354.3" x2="465.8" y2="354.3" stroke="#8f8f8f" stroke-width="1"/>
<line x1="431.3" y1="354.3" x2="431.3" y2="358.7" stroke="#8f8f8f" stroke-width="1"/>
<text x="0" y="0" font-size="8.8" text-anchor="middle" textLength="15" lengthAdjust="spacingAndGlyphs" transform="translate(375.6,300.3) rotate(-90)">DSS</text>
<line x1="508.6" y1="239" x2="508.6" y2="354.8" stroke="#8f8f8f" stroke-width="1"/>
<line x1="503.8" y1="354.8" x2="508.6" y2="354.8" stroke="#8f8f8f" stroke-width="1"/>
<text x="502.0" y="358.2" font-size="9.4" text-anchor="end" textLength="5.0" lengthAdjust="spacingAndGlyphs">0</text>
<line x1="503.8" y1="332.3" x2="508.6" y2="332.3" stroke="#8f8f8f" stroke-width="1"/>
<text x="502.0" y="335.7" font-size="9.4" text-anchor="end" textLength="15.01" lengthAdjust="spacingAndGlyphs">100</text>
<line x1="503.8" y1="309.8" x2="508.6" y2="309.8" stroke="#8f8f8f" stroke-width="1"/>
<text x="502.0" y="313.2" font-size="9.4" text-anchor="end" textLength="15.01" lengthAdjust="spacingAndGlyphs">200</text>
<line x1="503.8" y1="287.3" x2="508.6" y2="287.3" stroke="#8f8f8f" stroke-width="1"/>
<text x="502.0" y="290.7" font-size="9.4" text-anchor="end" textLength="15.01" lengthAdjust="spacingAndGlyphs">300</text>
<line x1="503.8" y1="264.8" x2="508.6" y2="264.8" stroke="#8f8f8f" stroke-width="1"/>
<text x="502.0" y="268.2" font-size="9.4" text-anchor="end" textLength="15.01" lengthAdjust="spacingAndGlyphs">400</text>
<line x1="503.8" y1="242.3" x2="508.6" y2="242.3" stroke="#8f8f8f" stroke-width="1"/>
<text x="502.0" y="245.7" font-size="9.4" text-anchor="end" textLength="15.01" lengthAdjust="spacingAndGlyphs">500</text>
<line x1="508.6" y1="354.8" x2="576" y2="354.8" stroke="#8f8f8f" stroke-width="1"/>
<line x1="541.7" y1="354.8" x2="541.7" y2="359.2" stroke="#8f8f8f" stroke-width="1"/>
<text x="0" y="0" font-size="8.8" text-anchor="middle" textLength="16.8" lengthAdjust="spacingAndGlyphs" transform="translate(480.2,300.3) rotate(-90)">AUC</text>
<line x1="610.3" y1="239" x2="610.3" y2="354.3" stroke="#8f8f8f" stroke-width="1"/>
<line x1="605.5" y1="354.3" x2="610.3" y2="354.3" stroke="#8f8f8f" stroke-width="1"/>
<text x="603.7" y="357.7" font-size="9.4" text-anchor="end" textLength="5.0" lengthAdjust="spacingAndGlyphs">0</text>
<line x1="605.5" y1="327.0" x2="610.3" y2="327.0" stroke="#8f8f8f" stroke-width="1"/>
<text x="603.7" y="330.4" font-size="9.4" text-anchor="end" textLength="5.0" lengthAdjust="spacingAndGlyphs">1</text>
<line x1="605.5" y1="299.7" x2="610.3" y2="299.7" stroke="#8f8f8f" stroke-width="1"/>
<text x="603.7" y="303.1" font-size="9.4" text-anchor="end" textLength="5.0" lengthAdjust="spacingAndGlyphs">2</text>
<line x1="605.5" y1="272.4" x2="610.3" y2="272.4" stroke="#8f8f8f" stroke-width="1"/>
<text x="603.7" y="275.8" font-size="9.4" text-anchor="end" textLength="5.0" lengthAdjust="spacingAndGlyphs">3</text>
<line x1="605.5" y1="245.10000000000002" x2="610.3" y2="245.10000000000002" stroke="#8f8f8f" stroke-width="1"/>
<text x="603.7" y="248.5" font-size="9.4" text-anchor="end" textLength="5.0" lengthAdjust="spacingAndGlyphs">4</text>
<line x1="610.3" y1="354.3" x2="678.8" y2="354.3" stroke="#8f8f8f" stroke-width="1"/>
<line x1="644.5" y1="354.3" x2="644.5" y2="358.7" stroke="#8f8f8f" stroke-width="1"/>
<text x="0" y="0" font-size="8.8" text-anchor="middle" textLength="40.5" lengthAdjust="spacingAndGlyphs" transform="translate(594.3,300.3) rotate(-90)">Log2[IC<tspan font-size="6.2" dy="1.6">50</tspan><tspan dy="-1.6">]</tspan></text>
<line x1="414" y1="349.3" x2="417.5" y2="349.3" stroke="#6a6a6a" stroke-width="0.7"/>
<line x1="445.5" y1="349.3" x2="448.8" y2="349.3" stroke="#6a6a6a" stroke-width="0.7"/>
<circle cx="430.50" cy="334.40" r="1.55" fill="#c8ccdb" stroke="#fff" stroke-width="0.3"/>
<circle cx="432.50" cy="335.20" r="1.55" fill="#c8ccdb" stroke="#fff" stroke-width="0.3"/>
<circle cx="428.50" cy="340.30" r="1.55" fill="#c8ccdb" stroke="#fff" stroke-width="0.3"/>
<circle cx="439.40" cy="340.00" r="1.55" fill="#c8ccdb" stroke="#fff" stroke-width="0.3"/>
<circle cx="421.50" cy="341.90" r="1.55" fill="#c8ccdb" stroke="#fff" stroke-width="0.3"/>
<circle cx="425.10" cy="342.40" r="1.55" fill="#c8ccdb" stroke="#fff" stroke-width="0.3"/>
<circle cx="434.30" cy="343.00" r="1.55" fill="#c8ccdb" stroke="#fff" stroke-width="0.3"/>
<circle cx="441.50" cy="342.70" r="1.55" fill="#c8ccdb" stroke="#fff" stroke-width="0.3"/>
<circle cx="421.50" cy="346.10" r="1.55" fill="#c8ccdb" stroke="#fff" stroke-width="0.3"/>
<circle cx="424.00" cy="345.00" r="1.55" fill="#c8ccdb" stroke="#fff" stroke-width="0.3"/>
<circle cx="426.70" cy="345.70" r="1.55" fill="#c8ccdb" stroke="#fff" stroke-width="0.3"/>
<circle cx="429.10" cy="344.30" r="1.55" fill="#c8ccdb" stroke="#fff" stroke-width="0.3"/>
<circle cx="431.10" cy="346.90" r="1.55" fill="#c8ccdb" stroke="#fff" stroke-width="0.3"/>
<circle cx="433.50" cy="346.90" r="1.55" fill="#c8ccdb" stroke="#fff" stroke-width="0.3"/>
<circle cx="435.90" cy="346.90" r="1.55" fill="#c8ccdb" stroke="#fff" stroke-width="0.3"/>
<circle cx="438.30" cy="346.90" r="1.55" fill="#c8ccdb" stroke="#fff" stroke-width="0.3"/>
<circle cx="441.50" cy="346.10" r="1.55" fill="#c8ccdb" stroke="#fff" stroke-width="0.3"/>
<circle cx="417.90" cy="350.50" r="1.55" fill="#c8ccdb" stroke="#fff" stroke-width="0.3"/>
<circle cx="420.70" cy="350.90" r="1.55" fill="#c8ccdb" stroke="#fff" stroke-width="0.3"/>
<circle cx="423.50" cy="349.30" r="1.55" fill="#c8ccdb" stroke="#fff" stroke-width="0.3"/>
<circle cx="425.50" cy="351.30" r="1.55" fill="#c8ccdb" stroke="#fff" stroke-width="0.3"/>
<circle cx="428.30" cy="348.90" r="1.55" fill="#c8ccdb" stroke="#fff" stroke-width="0.3"/>
<circle cx="430.70" cy="350.50" r="1.55" fill="#c8ccdb" stroke="#fff" stroke-width="0.3"/>
<circle cx="432.70" cy="350.50" r="1.55" fill="#c8ccdb" stroke="#fff" stroke-width="0.3"/>
<circle cx="435.50" cy="350.10" r="1.55" fill="#c8ccdb" stroke="#fff" stroke-width="0.3"/>
<circle cx="437.90" cy="350.50" r="1.55" fill="#c8ccdb" stroke="#fff" stroke-width="0.3"/>
<circle cx="440.30" cy="350.50" r="1.55" fill="#c8ccdb" stroke="#fff" stroke-width="0.3"/>
<circle cx="443.10" cy="350.50" r="1.55" fill="#c8ccdb" stroke="#fff" stroke-width="0.3"/>
<circle cx="445.20" cy="349.30" r="1.55" fill="#c8ccdb" stroke="#fff" stroke-width="0.3"/>
<circle cx="415.80" cy="354.10" r="1.55" fill="#c8ccdb" stroke="#fff" stroke-width="0.3"/>
<circle cx="423.00" cy="354.10" r="1.55" fill="#c8ccdb" stroke="#fff" stroke-width="0.3"/>
<circle cx="425.70" cy="354.10" r="1.55" fill="#c8ccdb" stroke="#fff" stroke-width="0.3"/>
<circle cx="428.30" cy="354.10" r="1.55" fill="#c8ccdb" stroke="#fff" stroke-width="0.3"/>
<circle cx="430.70" cy="354.10" r="1.55" fill="#c8ccdb" stroke="#fff" stroke-width="0.3"/>
<circle cx="434.30" cy="353.30" r="1.55" fill="#c8ccdb" stroke="#fff" stroke-width="0.3"/>
<circle cx="437.10" cy="354.10" r="1.55" fill="#c8ccdb" stroke="#fff" stroke-width="0.3"/>
<circle cx="439.50" cy="354.10" r="1.55" fill="#c8ccdb" stroke="#fff" stroke-width="0.3"/>
<circle cx="441.90" cy="353.30" r="1.55" fill="#c8ccdb" stroke="#fff" stroke-width="0.3"/>
<circle cx="444.70" cy="354.10" r="1.55" fill="#c8ccdb" stroke="#fff" stroke-width="0.3"/>
<circle cx="446.80" cy="354.10" r="1.55" fill="#c8ccdb" stroke="#fff" stroke-width="0.3"/>
<circle cx="431.40" cy="299.50" r="1.55" fill="#c8ccdb" stroke="#fff" stroke-width="0.3"/>
<circle cx="431.40" cy="313.40" r="1.55" fill="#c8ccdb" stroke="#fff" stroke-width="0.3"/>
<circle cx="431.30" cy="275.00" r="3.1" fill="#1f77b4"/>
<text x="431.3" y="257.2" font-size="8.6" text-anchor="middle" textLength="49" lengthAdjust="spacingAndGlyphs">High <tspan font-style="italic">Z</tspan>-score</text>
<text x="430.9" y="266.6" font-size="8.6" text-anchor="middle" textLength="39" lengthAdjust="spacingAndGlyphs">(sensitive)</text>
<text x="434.6" y="368.1" font-size="8.6" text-anchor="middle" textLength="58.3" lengthAdjust="spacingAndGlyphs">Tumors treated</text>
<text x="434.5" y="378.2" font-size="8.6" text-anchor="middle" textLength="45.4" lengthAdjust="spacingAndGlyphs">with drug G</text>
<line x1="524.8" y1="248.3" x2="530.6" y2="248.3" stroke="#6a6a6a" stroke-width="0.7"/>
<line x1="553.2" y1="248.3" x2="558.6" y2="248.3" stroke="#6a6a6a" stroke-width="0.7"/>
<circle cx="526.30" cy="241.80" r="1.55" fill="#c8ccdb" stroke="#fff" stroke-width="0.3"/>
<circle cx="530.40" cy="241.80" r="1.55" fill="#c8ccdb" stroke="#fff" stroke-width="0.3"/>
<circle cx="534.10" cy="241.80" r="1.55" fill="#c8ccdb" stroke="#fff" stroke-width="0.3"/>
<circle cx="537.80" cy="241.80" r="1.55" fill="#c8ccdb" stroke="#fff" stroke-width="0.3"/>
<circle cx="541.90" cy="241.80" r="1.55" fill="#c8ccdb" stroke="#fff" stroke-width="0.3"/>
<circle cx="544.60" cy="241.80" r="1.55" fill="#c8ccdb" stroke="#fff" stroke-width="0.3"/>
<circle cx="547.50" cy="241.80" r="1.55" fill="#c8ccdb" stroke="#fff" stroke-width="0.3"/>
<circle cx="551.40" cy="241.80" r="1.55" fill="#c8ccdb" stroke="#fff" stroke-width="0.3"/>
<circle cx="553.60" cy="241.80" r="1.55" fill="#c8ccdb" stroke="#fff" stroke-width="0.3"/>
<circle cx="557.10" cy="241.80" r="1.55" fill="#c8ccdb" stroke="#fff" stroke-width="0.3"/>
<circle cx="528.50" cy="244.20" r="1.55" fill="#c8ccdb" stroke="#fff" stroke-width="0.3"/>
<circle cx="531.90" cy="244.20" r="1.55" fill="#c8ccdb" stroke="#fff" stroke-width="0.3"/>
<circle cx="536.00" cy="244.20" r="1.55" fill="#c8ccdb" stroke="#fff" stroke-width="0.3"/>
<circle cx="539.70" cy="244.20" r="1.55" fill="#c8ccdb" stroke="#fff" stroke-width="0.3"/>
<circle cx="549.30" cy="244.20" r="1.55" fill="#c8ccdb" stroke="#fff" stroke-width="0.3"/>
<circle cx="533.70" cy="245.80" r="1.55" fill="#c8ccdb" stroke="#fff" stroke-width="0.3"/>
<circle cx="537.80" cy="245.80" r="1.55" fill="#c8ccdb" stroke="#fff" stroke-width="0.3"/>
<circle cx="541.00" cy="245.80" r="1.55" fill="#c8ccdb" stroke="#fff" stroke-width="0.3"/>
<circle cx="544.50" cy="245.80" r="1.55" fill="#c8ccdb" stroke="#fff" stroke-width="0.3"/>
<circle cx="547.50" cy="245.80" r="1.55" fill="#c8ccdb" stroke="#fff" stroke-width="0.3"/>
<circle cx="550.60" cy="245.80" r="1.55" fill="#c8ccdb" stroke="#fff" stroke-width="0.3"/>
<circle cx="532.20" cy="247.90" r="1.55" fill="#c8ccdb" stroke="#fff" stroke-width="0.3"/>
<circle cx="536.00" cy="247.90" r="1.55" fill="#c8ccdb" stroke="#fff" stroke-width="0.3"/>
<circle cx="539.70" cy="247.90" r="1.55" fill="#c8ccdb" stroke="#fff" stroke-width="0.3"/>
<circle cx="542.60" cy="247.90" r="1.55" fill="#c8ccdb" stroke="#fff" stroke-width="0.3"/>
<circle cx="545.80" cy="247.90" r="1.55" fill="#c8ccdb" stroke="#fff" stroke-width="0.3"/>
<circle cx="549.30" cy="247.90" r="1.55" fill="#c8ccdb" stroke="#fff" stroke-width="0.3"/>
<circle cx="551.90" cy="247.90" r="1.55" fill="#c8ccdb" stroke="#fff" stroke-width="0.3"/>
<circle cx="533.40" cy="249.60" r="1.55" fill="#c8ccdb" stroke="#fff" stroke-width="0.3"/>
<circle cx="538.50" cy="249.60" r="1.55" fill="#c8ccdb" stroke="#fff" stroke-width="0.3"/>
<circle cx="543.00" cy="249.60" r="1.55" fill="#c8ccdb" stroke="#fff" stroke-width="0.3"/>
<circle cx="549.70" cy="249.60" r="1.55" fill="#c8ccdb" stroke="#fff" stroke-width="0.3"/>
<circle cx="532.20" cy="251.60" r="1.55" fill="#c8ccdb" stroke="#fff" stroke-width="0.3"/>
<circle cx="535.20" cy="251.60" r="1.55" fill="#c8ccdb" stroke="#fff" stroke-width="0.3"/>
<circle cx="539.30" cy="251.60" r="1.55" fill="#c8ccdb" stroke="#fff" stroke-width="0.3"/>
<circle cx="543.80" cy="251.60" r="1.55" fill="#c8ccdb" stroke="#fff" stroke-width="0.3"/>
<circle cx="547.80" cy="251.60" r="1.55" fill="#c8ccdb" stroke="#fff" stroke-width="0.3"/>
<circle cx="551.60" cy="251.60" r="1.55" fill="#c8ccdb" stroke="#fff" stroke-width="0.3"/>
<circle cx="537.80" cy="252.90" r="1.55" fill="#c8ccdb" stroke="#fff" stroke-width="0.3"/>
<circle cx="541.50" cy="252.90" r="1.55" fill="#c8ccdb" stroke="#fff" stroke-width="0.3"/>
<circle cx="545.60" cy="252.90" r="1.55" fill="#c8ccdb" stroke="#fff" stroke-width="0.3"/>
<circle cx="536.00" cy="254.40" r="1.55" fill="#c8ccdb" stroke="#fff" stroke-width="0.3"/>
<circle cx="541.50" cy="254.40" r="1.55" fill="#c8ccdb" stroke="#fff" stroke-width="0.3"/>
<circle cx="545.60" cy="254.40" r="1.55" fill="#c8ccdb" stroke="#fff" stroke-width="0.3"/>
<circle cx="539.70" cy="256.10" r="1.55" fill="#c8ccdb" stroke="#fff" stroke-width="0.3"/>
<circle cx="537.80" cy="258.20" r="1.55" fill="#c8ccdb" stroke="#fff" stroke-width="0.3"/>
<circle cx="541.50" cy="258.20" r="1.55" fill="#c8ccdb" stroke="#fff" stroke-width="0.3"/>
<circle cx="543.90" cy="258.20" r="1.55" fill="#c8ccdb" stroke="#fff" stroke-width="0.3"/>
<circle cx="545.80" cy="258.20" r="1.55" fill="#c8ccdb" stroke="#fff" stroke-width="0.3"/>
<circle cx="541.30" cy="259.80" r="1.55" fill="#c8ccdb" stroke="#fff" stroke-width="0.3"/>
<circle cx="541.70" cy="281.90" r="1.55" fill="#c8ccdb" stroke="#fff" stroke-width="0.3"/>
<circle cx="541.70" cy="291.80" r="1.55" fill="#c8ccdb" stroke="#fff" stroke-width="0.3"/>
<circle cx="541.70" cy="303.90" r="3.1" fill="#ee7400"/>
<text x="542.4" y="317.4" font-size="8.6" text-anchor="middle" textLength="46.8" lengthAdjust="spacingAndGlyphs">Low <tspan font-style="italic">Z</tspan>-score</text>
<text x="542.3" y="326.8" font-size="8.6" text-anchor="middle" textLength="39" lengthAdjust="spacingAndGlyphs">(sensitive)</text>
<text x="542.1" y="368.1" font-size="8.6" text-anchor="middle" textLength="58.3" lengthAdjust="spacingAndGlyphs">Tumors treated</text>
<text x="542.1" y="378.2" font-size="8.6" text-anchor="middle" textLength="45.4" lengthAdjust="spacingAndGlyphs">with drug G</text>
<line x1="627.4" y1="266.3" x2="631.6" y2="266.3" stroke="#6a6a6a" stroke-width="0.7"/>
<line x1="660.0" y1="266.3" x2="662" y2="266.3" stroke="#6a6a6a" stroke-width="0.7"/>
<circle cx="628.60" cy="262.90" r="1.55" fill="#c8ccdb" stroke="#fff" stroke-width="0.3"/>
<circle cx="630.74" cy="262.90" r="1.55" fill="#c8ccdb" stroke="#fff" stroke-width="0.3"/>
<circle cx="632.58" cy="262.90" r="1.55" fill="#c8ccdb" stroke="#fff" stroke-width="0.3"/>
<circle cx="635.65" cy="262.90" r="1.55" fill="#c8ccdb" stroke="#fff" stroke-width="0.3"/>
<circle cx="637.18" cy="262.90" r="1.55" fill="#c8ccdb" stroke="#fff" stroke-width="0.3"/>
<circle cx="639.02" cy="262.90" r="1.55" fill="#c8ccdb" stroke="#fff" stroke-width="0.3"/>
<circle cx="643.01" cy="262.90" r="1.55" fill="#c8ccdb" stroke="#fff" stroke-width="0.3"/>
<circle cx="644.85" cy="262.90" r="1.55" fill="#c8ccdb" stroke="#fff" stroke-width="0.3"/>
<circle cx="646.69" cy="262.90" r="1.55" fill="#c8ccdb" stroke="#fff" stroke-width="0.3"/>
<circle cx="648.52" cy="262.90" r="1.55" fill="#c8ccdb" stroke="#fff" stroke-width="0.3"/>
<circle cx="650.36" cy="262.90" r="1.55" fill="#c8ccdb" stroke="#fff" stroke-width="0.3"/>
<circle cx="652.20" cy="262.90" r="1.55" fill="#c8ccdb" stroke="#fff" stroke-width="0.3"/>
<circle cx="654.04" cy="262.90" r="1.55" fill="#c8ccdb" stroke="#fff" stroke-width="0.3"/>
<circle cx="655.88" cy="262.90" r="1.55" fill="#c8ccdb" stroke="#fff" stroke-width="0.3"/>
<circle cx="657.42" cy="262.90" r="1.55" fill="#c8ccdb" stroke="#fff" stroke-width="0.3"/>
<circle cx="659.25" cy="262.90" r="1.55" fill="#c8ccdb" stroke="#fff" stroke-width="0.3"/>
<circle cx="660.79" cy="262.90" r="1.55" fill="#c8ccdb" stroke="#fff" stroke-width="0.3"/>
<circle cx="634.42" cy="264.44" r="1.55" fill="#c8ccdb" stroke="#fff" stroke-width="0.3"/>
<circle cx="638.71" cy="264.44" r="1.55" fill="#c8ccdb" stroke="#fff" stroke-width="0.3"/>
<circle cx="641.47" cy="264.44" r="1.55" fill="#c8ccdb" stroke="#fff" stroke-width="0.3"/>
<circle cx="645.46" cy="264.44" r="1.55" fill="#c8ccdb" stroke="#fff" stroke-width="0.3"/>
<circle cx="649.75" cy="264.44" r="1.55" fill="#c8ccdb" stroke="#fff" stroke-width="0.3"/>
<circle cx="652.82" cy="264.44" r="1.55" fill="#c8ccdb" stroke="#fff" stroke-width="0.3"/>
<circle cx="657.11" cy="264.44" r="1.55" fill="#c8ccdb" stroke="#fff" stroke-width="0.3"/>
<circle cx="660.17" cy="264.44" r="1.55" fill="#c8ccdb" stroke="#fff" stroke-width="0.3"/>
<circle cx="635.04" cy="267.20" r="1.55" fill="#c8ccdb" stroke="#fff" stroke-width="0.3"/>
<circle cx="639.33" cy="267.20" r="1.55" fill="#c8ccdb" stroke="#fff" stroke-width="0.3"/>
<circle cx="642.39" cy="267.20" r="1.55" fill="#c8ccdb" stroke="#fff" stroke-width="0.3"/>
<circle cx="645.46" cy="267.20" r="1.55" fill="#c8ccdb" stroke="#fff" stroke-width="0.3"/>
<circle cx="648.52" cy="267.20" r="1.55" fill="#c8ccdb" stroke="#fff" stroke-width="0.3"/>
<circle cx="651.59" cy="267.20" r="1.55" fill="#c8ccdb" stroke="#fff" stroke-width="0.3"/>
<circle cx="654.66" cy="267.20" r="1.55" fill="#c8ccdb" stroke="#fff" stroke-width="0.3"/>
<circle cx="658.33" cy="267.20" r="1.55" fill="#c8ccdb" stroke="#fff" stroke-width="0.3"/>
<circle cx="633.20" cy="269.34" r="1.55" fill="#c8ccdb" stroke="#fff" stroke-width="0.3"/>
<circle cx="636.88" cy="269.34" r="1.55" fill="#c8ccdb" stroke="#fff" stroke-width="0.3"/>
<circle cx="640.55" cy="269.34" r="1.55" fill="#c8ccdb" stroke="#fff" stroke-width="0.3"/>
<circle cx="644.23" cy="269.34" r="1.55" fill="#c8ccdb" stroke="#fff" stroke-width="0.3"/>
<circle cx="647.61" cy="269.34" r="1.55" fill="#c8ccdb" stroke="#fff" stroke-width="0.3"/>
<circle cx="652.82" cy="269.34" r="1.55" fill="#c8ccdb" stroke="#fff" stroke-width="0.3"/>
<circle cx="641.17" cy="271.98" r="1.55" fill="#c8ccdb" stroke="#fff" stroke-width="0.3"/>
<circle cx="646.07" cy="271.98" r="1.55" fill="#c8ccdb" stroke="#fff" stroke-width="0.3"/>
<circle cx="644.50" cy="289.20" r="1.55" fill="#c8ccdb" stroke="#fff" stroke-width="0.3"/>
<circle cx="644.50" cy="309.30" r="1.55" fill="#c8ccdb" stroke="#fff" stroke-width="0.3"/>
<circle cx="644.50" cy="347.10" r="3.1" fill="#fec480"/>
<text x="645.4" y="329.2" font-size="8.6" text-anchor="middle" textLength="46.8" lengthAdjust="spacingAndGlyphs">Low <tspan font-style="italic">Z</tspan>-score</text>
<text x="645.2" y="338.6" font-size="8.6" text-anchor="middle" textLength="39" lengthAdjust="spacingAndGlyphs">(sensitive)</text>
<text x="642.7" y="368.4" font-size="8.6" text-anchor="middle" textLength="58.3" lengthAdjust="spacingAndGlyphs">Tumors treated</text>
<text x="642.6" y="378.5" font-size="8.6" text-anchor="middle" textLength="45.4" lengthAdjust="spacingAndGlyphs">with drug G</text>
<circle cx="480.90" cy="394.10" r="1.5" fill="#c8ccdb"/>
<text x="488.3" y="398.2" font-size="8.6" textLength="66" lengthAdjust="spacingAndGlyphs">Reference cohort</text>
</svg>
</body></html>
